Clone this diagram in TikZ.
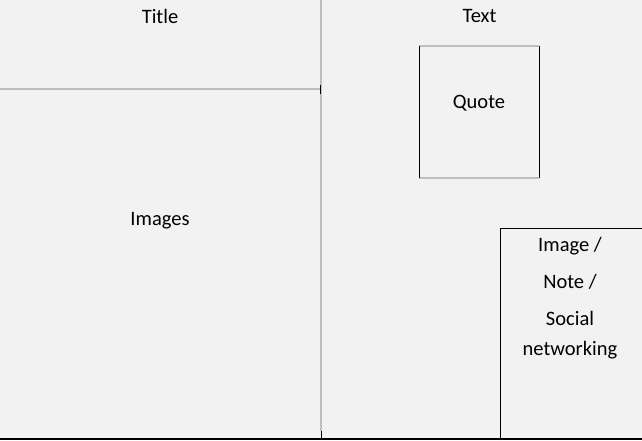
\documentclass[tikz,border=0pt]{standalone}
\usepackage{fontspec}
\setmainfont{Carlito}
\definecolor{pagegray}{HTML}{F2F2F2}
\definecolor{rulegray}{HTML}{BFBFBF}

\begin{document}
\begin{tikzpicture}[x=1pt, y=-1pt, font=\fontsize{20.5}{24}\selectfont,
    lbl/.style={anchor=base, inner sep=0pt},
    gline/.style={draw=rulegray, line width=2pt},
    bline/.style={draw=black, line width=1pt}]
      \fill[pagegray] (0, 0) rectangle (642, 440);
      \useasboundingbox (0, 0) rectangle (642, 440);
      % left column
      \draw[gline] (0, 89) -- (321, 89);
      \draw[gline] (321, 0) -- (321, 431);
      \draw[bline] (321, 431) -- (321, 440);
      \draw[bline] (320, 85) -- (320, 94);
      \draw[black, line width=2pt] (0, 439) -- (642, 439);
      % quote box
      \draw[gline] (419, 46) -- (539, 46);
      \draw[gline] (419, 178) -- (539, 178);
      \draw[bline] (419, 46) -- (419, 178);
      \draw[bline] (539, 46) -- (539, 178);
      % side box
      \draw[bline] (500, 440) -- (500, 228.5) -- (642, 228.5);
      \node[lbl] (title) at (160, 23) {Title};
      \node[lbl] (text) at (479.5, 22) {Text};
      \node[lbl] (quote) at (479, 108) {Quote};
      \node[lbl] (images) at (160, 225) {Images};
        \node[lbl] (img) at (570, 251) {Image /};
        \node[lbl] (note) at (570, 288) {Note /};
        \node[lbl] (social) at (570, 325) {Social};
        \node[lbl] (netw) at (570, 355) {networking};
    \end{tikzpicture}
\end{document}
